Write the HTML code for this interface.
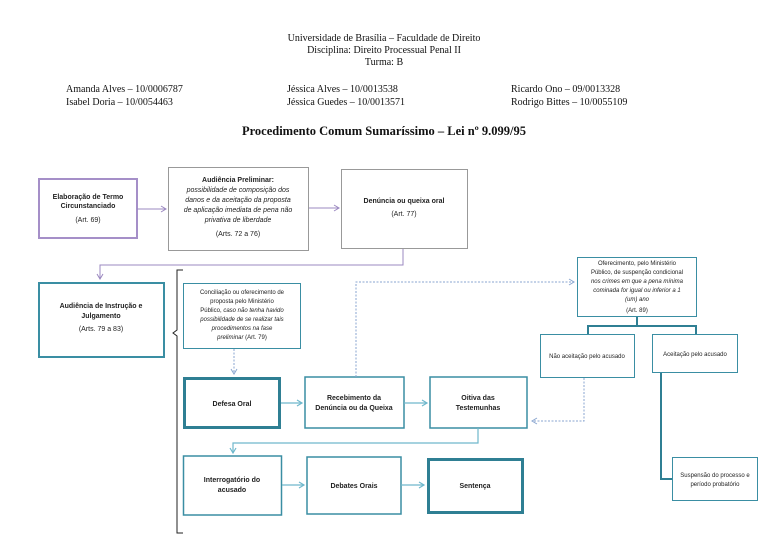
<!DOCTYPE html>
<html><head><meta charset="utf-8"><style>
html,body{margin:0;padding:0;background:#fff;}
svg{display:block;}
.h{font-family:"Liberation Serif",serif;font-size:10px;fill:#111;}
.b{font-family:"Liberation Sans",sans-serif;font-size:7px;fill:#222;}
.bb{font-family:"Liberation Sans",sans-serif;font-size:7px;font-weight:bold;fill:#222;}
.s{font-family:"Liberation Sans",sans-serif;font-size:6px;fill:#222;}
.i{font-style:italic;}
</style></head><body>
<svg width="768" height="544" viewBox="0 0 768 544" xmlns="http://www.w3.org/2000/svg">
<defs>
<marker id="ap" markerWidth="8" markerHeight="8" refX="6" refY="4" orient="auto" markerUnits="userSpaceOnUse"><path d="M1,1 L6,4 L1,7" fill="none" stroke="#9b88c0" stroke-width="1"/></marker>
<marker id="at" markerWidth="8" markerHeight="8" refX="6" refY="4" orient="auto" markerUnits="userSpaceOnUse"><path d="M1,1 L6,4 L1,7" fill="none" stroke="#6fb8cc" stroke-width="1.2"/></marker>
<marker id="ad" markerWidth="8" markerHeight="8" refX="6" refY="4" orient="auto" markerUnits="userSpaceOnUse"><path d="M1,1 L6,4 L1,7" fill="none" stroke="#8aa6d0" stroke-width="1"/></marker>
</defs>
<text class="h" x="384" y="41" text-anchor="middle">Universidade de Brasília – Faculdade de Direito</text>
<text class="h" x="384" y="53" text-anchor="middle">Disciplina: Direito Processual Penal II</text>
<text class="h" x="384" y="65" text-anchor="middle">Turma: B</text>
<text class="h" x="66" y="92">Amanda Alves – 10/0006787</text>
<text class="h" x="66" y="105">Isabel Doria – 10/0054463</text>
<text class="h" x="287" y="92">Jéssica Alves – 10/0013538</text>
<text class="h" x="287" y="105">Jéssica Guedes – 10/0013571</text>
<text class="h" x="511" y="92">Ricardo Ono – 09/0013328</text>
<text class="h" x="511" y="105">Rodrigo Bittes – 10/0055109</text>
<text class="h" x="384" y="135" text-anchor="middle" style="font-size:12.5px;font-weight:bold">Procedimento Comum Sumaríssimo – Lei nº 9.099/95</text>

<!-- top row -->
<rect x="39" y="179" width="98" height="59" fill="#fff" stroke="#a58fc8" stroke-width="2"/>
<text class="bb" x="88" y="199" text-anchor="middle">Elaboração de Termo</text>
<text class="bb" x="88" y="208" text-anchor="middle">Circunstanciado</text>
<text class="b" x="88" y="222" text-anchor="middle">(Art. 69)</text>
<line x1="137" y1="209" x2="166" y2="209" stroke="#9b88c0" marker-end="url(#ap)"/>
<rect x="168.5" y="167.5" width="140" height="83" fill="#fff" stroke="#999" stroke-width="1"/>
<text class="bb" x="238" y="182" text-anchor="middle">Audiência Preliminar:</text>
<text class="b i" x="238" y="192" text-anchor="middle">possibilidade  de composição dos</text>
<text class="b i" x="238" y="202" text-anchor="middle">danos e da aceitação da proposta</text>
<text class="b i" x="238" y="212" text-anchor="middle">de aplicação imediata de pena não</text>
<text class="b i" x="238" y="222" text-anchor="middle">privativa de liberdade</text>
<text class="b" x="238" y="236" text-anchor="middle">(Arts. 72 a 76)</text>
<line x1="309" y1="208" x2="339" y2="208" stroke="#9b88c0" marker-end="url(#ap)"/>
<rect x="341.5" y="169.5" width="126" height="79" fill="#fff" stroke="#999" stroke-width="1"/>
<text class="bb" x="404" y="203" text-anchor="middle">Denúncia ou queixa oral</text>
<text class="b" x="404" y="216" text-anchor="middle">(Art. 77)</text>
<polyline points="403,249 403,265 100,265 100,279" fill="none" stroke="#9b88c0" marker-end="url(#ap)"/>

<rect x="39" y="283" width="125" height="74" fill="#fff" stroke="#3a8ea3" stroke-width="2"/>
<text class="bb" x="101" y="308" text-anchor="middle">Audiência de Instrução e</text>
<text class="bb" x="101" y="318" text-anchor="middle">Julgamento</text>
<text class="b" x="101" y="331" text-anchor="middle">(Arts. 79 a 83)</text>

<!-- brace -->
<path d="M183,270 L177,270 L177,330 L173,333 L177,336 L177,533 L183,533" fill="none" stroke="#222" stroke-width="1"/>

<rect x="183.5" y="283.5" width="117" height="65" fill="#fff" stroke="#3a8ea3" stroke-width="1"/>
<text class="s" x="242" y="294" text-anchor="middle">Conciliação ou oferecimento de</text>
<text class="s" x="242" y="303" text-anchor="middle">proposta pelo Ministério</text>
<text class="s" x="242" y="312" text-anchor="middle">Público, <tspan class="i">caso não tenha havido</tspan></text>
<text class="s i" x="242" y="321" text-anchor="middle">possibilidade de se realizar tais</text>
<text class="s i" x="242" y="330" text-anchor="middle">procedimentos na fase</text>
<text class="s" x="242" y="339" text-anchor="middle"><tspan class="i">preliminar</tspan>   (Art. 79)</text>
<line x1="234" y1="349" x2="234" y2="374" stroke="#8aa6d0" stroke-dasharray="2,1.5" marker-end="url(#ad)"/>

<!-- middle row -->
<rect x="184.5" y="378.5" width="95" height="49" fill="#fff" stroke="#2f7f93" stroke-width="3"/>
<text class="bb" x="232" y="406" text-anchor="middle">Defesa  Oral</text>
<line x1="281" y1="403" x2="302" y2="403" stroke="#6fb8cc" stroke-width="1.2" marker-end="url(#at)"/>
<rect x="305" y="377" width="99" height="51" fill="#fff" stroke="#3a8ea3" stroke-width="1.5"/>
<text class="bb" x="354" y="400" text-anchor="middle">Recebimento da</text>
<text class="bb" x="354" y="410" text-anchor="middle">Denúncia ou da Queixa</text>
<line x1="404" y1="403" x2="427" y2="403" stroke="#6fb8cc" stroke-width="1.2" marker-end="url(#at)"/>
<rect x="430" y="377" width="97" height="51" fill="#fff" stroke="#3a8ea3" stroke-width="1.5"/>
<text class="bb" x="478" y="400" text-anchor="middle">Oitiva das</text>
<text class="bb" x="478" y="410" text-anchor="middle">Testemunhas</text>
<polyline points="356,377 356,282 574,282" fill="none" stroke="#8aa6d0" stroke-dasharray="2,1.5" marker-end="url(#ad)"/>
<polyline points="478,428 478,443 233,443 233,453" fill="none" stroke="#6fb8cc" stroke-width="1.2" marker-end="url(#at)"/>

<!-- bottom row -->
<rect x="183.5" y="456" width="98" height="59" fill="#fff" stroke="#3a8ea3" stroke-width="1.5"/>
<text class="bb" x="232" y="482" text-anchor="middle">Interrogatório do</text>
<text class="bb" x="232" y="492" text-anchor="middle">acusado</text>
<line x1="282" y1="485" x2="304" y2="485" stroke="#6fb8cc" stroke-width="1.2" marker-end="url(#at)"/>
<rect x="307" y="457" width="94" height="57" fill="#fff" stroke="#3a8ea3" stroke-width="1.5"/>
<text class="bb" x="354" y="488" text-anchor="middle">Debates Orais</text>
<line x1="401" y1="485" x2="424" y2="485" stroke="#6fb8cc" stroke-width="1.2" marker-end="url(#at)"/>
<rect x="428.5" y="459.5" width="94" height="53" fill="#fff" stroke="#2f7f93" stroke-width="3"/>
<text class="bb" x="475" y="488" text-anchor="middle">Sentença</text>

<!-- right side -->
<rect x="577.5" y="257.5" width="119" height="59" fill="#fff" stroke="#3a8ea3" stroke-width="1"/>
<text class="s" x="637" y="265" text-anchor="middle">Oferecimento, pelo Ministério</text>
<text class="s" x="637" y="274" text-anchor="middle">Público, de suspenção condicional</text>
<text class="s i" x="637" y="283" text-anchor="middle">nos crimes em que a pena mínima</text>
<text class="s i" x="637" y="292" text-anchor="middle">cominada for igual ou inferior a 1</text>
<text class="s i" x="637" y="301" text-anchor="middle">(um) ano</text>
<text class="s" x="637" y="312" text-anchor="middle">(Art. 89)</text>
<polyline points="637,317 637,326 588,326 588,334" fill="none" stroke="#2f7f93" stroke-width="2"/>
<polyline points="637,326 696,326 696,334" fill="none" stroke="#2f7f93" stroke-width="2"/>
<rect x="540.5" y="334.5" width="94" height="43" fill="#fff" stroke="#3a8ea3" stroke-width="1"/>
<text class="s" x="587" y="358" text-anchor="middle">Não aceitação pelo acusado</text>
<rect x="652.5" y="334.5" width="85" height="38" fill="#fff" stroke="#3a8ea3" stroke-width="1"/>
<text class="s" x="695" y="356" text-anchor="middle">Aceitação pelo acusado</text>
<polyline points="584,378 584,421 532,421" fill="none" stroke="#8aa6d0" stroke-dasharray="2,1.5" marker-end="url(#ad)"/>
<polyline points="661,373 661,479 672,479" fill="none" stroke="#2f7f93" stroke-width="2"/>
<rect x="672.5" y="457.5" width="85" height="43" fill="#fff" stroke="#3a8ea3" stroke-width="1"/>
<text class="s" x="715" y="477" text-anchor="middle">Suspensão do processo e</text>
<text class="s" x="715" y="486" text-anchor="middle">período probatório</text>
</svg>
</body></html>
